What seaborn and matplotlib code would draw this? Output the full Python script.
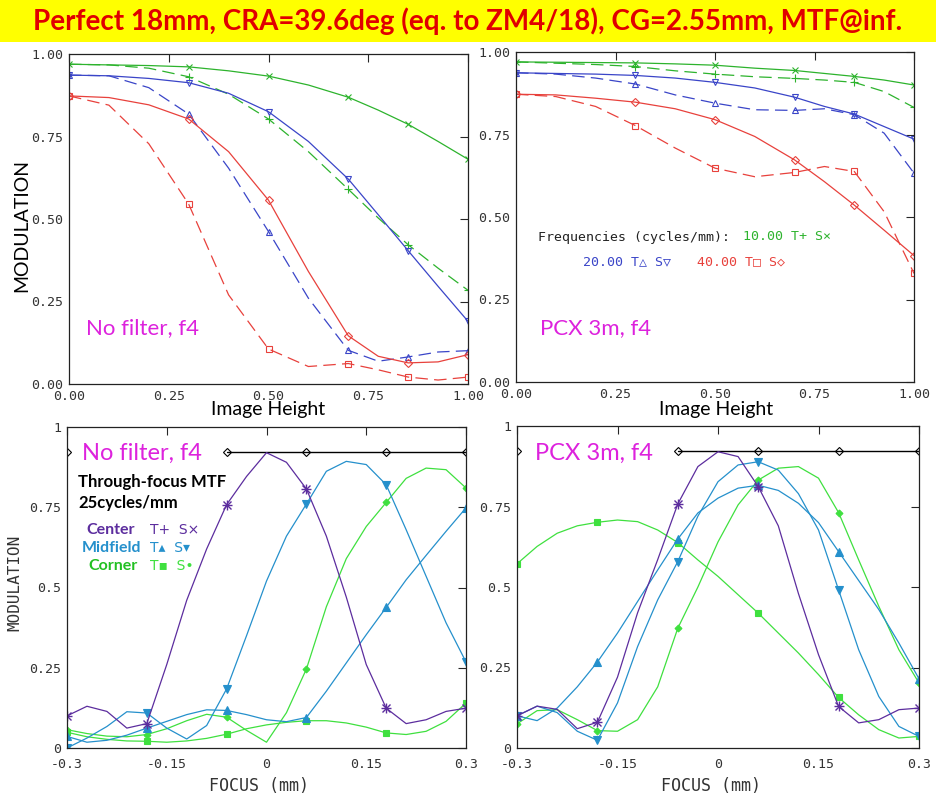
import matplotlib
matplotlib.use("Agg")
import matplotlib.pyplot as plt
from matplotlib.patches import Rectangle
import numpy as np
import pandas as pd
import seaborn as sns

sns.set_style("white")
plt.rcParams['font.family'] = ['DejaVu Sans Mono', 'DejaVu Sans']

# ---------------- data: MTF vs image height (top panels) ----------------
image_height = [0, 0.1, 0.2, 0.3, 0.4, 0.5, 0.6, 0.7, 0.775, 0.85, 0.925, 1.0]
ih_marker_idx = [0, 3, 5, 7, 9, 11]

nf_10T = [0.969, 0.967, 0.957, 0.931, 0.878, 0.803, 0.704, 0.590, 0.503, 0.422, 0.351, 0.284]
nf_10S = [0.969, 0.967, 0.965, 0.961, 0.949, 0.933, 0.906, 0.869, 0.830, 0.787, 0.735, 0.681]
nf_20T = [0.936, 0.934, 0.898, 0.818, 0.654, 0.462, 0.260, 0.102, 0.069, 0.082, 0.097, 0.101]
nf_20S = [0.936, 0.934, 0.926, 0.913, 0.881, 0.825, 0.735, 0.621, 0.513, 0.404, 0.296, 0.190]
nf_40T = [0.873, 0.845, 0.728, 0.545, 0.270, 0.106, 0.053, 0.062, 0.043, 0.021, 0.012, 0.021]
nf_40S = [0.873, 0.868, 0.846, 0.803, 0.704, 0.557, 0.341, 0.146, 0.084, 0.064, 0.067, 0.089]

pcx_10T = [0.970, 0.966, 0.962, 0.956, 0.943, 0.933, 0.925, 0.920, 0.915, 0.908, 0.880, 0.832]
pcx_10S = [0.970, 0.969, 0.968, 0.967, 0.964, 0.960, 0.951, 0.944, 0.935, 0.926, 0.915, 0.900]
pcx_20T = [0.937, 0.933, 0.921, 0.903, 0.870, 0.845, 0.825, 0.823, 0.828, 0.810, 0.754, 0.633]
pcx_20S = [0.937, 0.935, 0.933, 0.929, 0.921, 0.908, 0.891, 0.863, 0.835, 0.812, 0.774, 0.736]
pcx_40T = [0.872, 0.865, 0.835, 0.777, 0.709, 0.648, 0.622, 0.635, 0.653, 0.638, 0.516, 0.329]
pcx_40S = [0.872, 0.870, 0.860, 0.848, 0.828, 0.795, 0.744, 0.673, 0.607, 0.536, 0.460, 0.383]

# ---------------- data: through-focus MTF at 25 cycles/mm (bottom panels) ----------------
focus = [-0.30, -0.27, -0.24, -0.21, -0.18, -0.15, -0.12, -0.09, -0.06, -0.03, 0.00,
         0.03, 0.06, 0.09, 0.12, 0.15, 0.18, 0.21, 0.24, 0.27, 0.30]
focus_marker_idx = [0, 4, 8, 12, 16, 20]

nf_center = [0.100, 0.130, 0.114, 0.062, 0.076, 0.260, 0.460, 0.620, 0.758, 0.846, 0.920,
             0.890, 0.807, 0.660, 0.470, 0.260, 0.124, 0.076, 0.088, 0.114, 0.124]
nf_midT = [0.036, 0.018, 0.024, 0.040, 0.062, 0.083, 0.104, 0.119, 0.117, 0.104, 0.088,
           0.082, 0.095, 0.177, 0.265, 0.353, 0.438, 0.524, 0.600, 0.675, 0.748]
nf_midS = [0.000, 0.031, 0.067, 0.113, 0.109, 0.062, 0.028, 0.070, 0.184, 0.350, 0.520,
           0.660, 0.760, 0.862, 0.893, 0.883, 0.820, 0.680, 0.535, 0.390, 0.268]
nf_corT = [0.049, 0.035, 0.027, 0.022, 0.021, 0.018, 0.022, 0.030, 0.043, 0.060, 0.072,
           0.080, 0.085, 0.085, 0.078, 0.065, 0.047, 0.042, 0.052, 0.083, 0.140]
nf_corS = [0.057, 0.045, 0.037, 0.035, 0.042, 0.060, 0.085, 0.105, 0.096, 0.055, 0.018,
           0.110, 0.246, 0.440, 0.590, 0.690, 0.765, 0.840, 0.872, 0.867, 0.810]

pcx_center = [0.100, 0.130, 0.120, 0.060, 0.080, 0.220, 0.420, 0.585, 0.758, 0.874, 0.920,
              0.905, 0.812, 0.690, 0.480, 0.290, 0.129, 0.078, 0.088, 0.119, 0.124]
pcx_midT = [0.100, 0.085, 0.124, 0.190, 0.267, 0.357, 0.455, 0.553, 0.649, 0.730, 0.776,
            0.807, 0.816, 0.800, 0.760, 0.700, 0.610, 0.520, 0.430, 0.326, 0.215]
pcx_midS = [0.100, 0.130, 0.110, 0.052, 0.024, 0.140, 0.315, 0.460, 0.579, 0.720, 0.827,
            0.879, 0.889, 0.863, 0.790, 0.677, 0.491, 0.305, 0.160, 0.067, 0.036]
pcx_corT = [0.572, 0.626, 0.667, 0.690, 0.701, 0.708, 0.703, 0.677, 0.638, 0.584, 0.533,
            0.476, 0.419, 0.357, 0.295, 0.228, 0.157, 0.103, 0.057, 0.031, 0.036]
pcx_corS = [0.075, 0.116, 0.119, 0.088, 0.054, 0.052, 0.088, 0.190, 0.372, 0.500, 0.640,
            0.755, 0.832, 0.869, 0.874, 0.838, 0.731, 0.584, 0.440, 0.305, 0.202]

diff_focus = [-0.30, -0.06, 0.06, 0.18, 0.30]
diff_limit = [0.923, 0.923, 0.923, 0.923, 0.923]

top_ticks = [0, 0.25, 0.5, 0.75, 1.0]
top_ticklabels = ["0.00", "0.25", "0.50", "0.75", "1.00"]
focus_ticks = [-0.3, -0.15, 0, 0.15, 0.3]
focus_ticklabels = ["-0.3", "-0.15", "0", "0.15", "0.3"]
mod_ticks = [0, 0.25, 0.5, 0.75, 1.0]
mod_ticklabels = ["0", "0.25", "0.5", "0.75", "1"]

# colors
GREEN, BLUE, RED = "#2db32d", "#3a45c8", "#e8413c"
PURPLE, MID, CORNER = "#5c2d9e", "#2590cc", "#3fe03f"
MAGENTA = "#dd22dd"

W, H = 936, 798
fig = plt.figure(figsize=(W / 100, H / 100), dpi=100)
fig.add_artist(Rectangle((0, 1 - 42 / H), 1, 42 / H, transform=fig.transFigure,
                         facecolor="#ffff00", edgecolor="none", zorder=0))
fig.text(468 / W, 1 - 21 / H,
         "Perfect 18mm, CRA=39.6deg (eq. to ZM4/18), CG=2.55mm, MTF@inf.",
         ha="center", va="center", fontsize=20, fontweight="bold", color="#e00000",
         family=["Lato", "DejaVu Sans"])


def add_ax(l, t, r, b):
    return fig.add_axes([l / W, 1 - b / H, (r - l) / W, (b - t) / H])


def style(ax, xlim, xt, xtl, yt, ytl, xpad=4):
    ax.set_xlim(*xlim)
    ax.set_ylim(0, 1)
    ax.set_xticks(xt)
    ax.set_xticklabels(xtl)
    ax.set_yticks(yt)
    ax.set_yticklabels(ytl)
    ax.tick_params(direction="in", length=6, width=0.8, top=True, right=True,
                   labelsize=9.5, labelcolor="#333333", pad=4)
    ax.tick_params(axis="x", pad=xpad)
    for s in ax.spines.values():
        s.set_color("#222222")
        s.set_linewidth(0.9)
    ax.set_xlabel("")
    ax.set_ylabel("")
    ax.set_facecolor("white")


DASH = (0, (10, 5))


def series(ax, x, y, color, marker, idx, ls="-", ms=4.5, filled=False, mew=0.8, lw=0.9):
    sns.lineplot(x=x, y=y, ax=ax, color=color, linestyle=ls, linewidth=lw,
                 marker=marker, markevery=idx, markersize=ms,
                 markeredgecolor=color, markerfacecolor=(color if filled else "none"),
                 markeredgewidth=mew, errorbar=None, sort=False, legend=False)


def markers_only(ax, x, y, color, marker, idx, ms=5, filled=False, mew=0.8):
    sns.lineplot(x=x, y=y, ax=ax, color=color, linestyle="none",
                 marker=marker, markevery=idx, markersize=ms,
                 markeredgecolor=color, markerfacecolor=(color if filled else "none"),
                 markeredgewidth=mew, errorbar=None, sort=False, legend=False)


# ---------- top panels ----------
def top_panel(ax, d10T, d10S, d20T, d20S, d40T, d40S):
    series(ax, image_height, d10S, GREEN, "x", ih_marker_idx)
    series(ax, image_height, d10T, GREEN, "+", ih_marker_idx, ls=DASH, ms=6)
    series(ax, image_height, d20S, BLUE, "v", ih_marker_idx)
    series(ax, image_height, d20T, BLUE, "^", ih_marker_idx, ls=DASH)
    series(ax, image_height, d40S, RED, "D", ih_marker_idx, ms=3.8)
    series(ax, image_height, d40T, RED, "s", ih_marker_idx, ls=DASH, ms=4)
    style(ax, (0, 1), top_ticks, top_ticklabels, top_ticks, top_ticklabels)


ax1 = add_ax(69, 54, 468, 384)
top_panel(ax1, nf_10T, nf_10S, nf_20T, nf_20S, nf_40T, nf_40S)
ax2 = add_ax(516, 52, 914, 382)
top_panel(ax2, pcx_10T, pcx_10S, pcx_20T, pcx_20S, pcx_40T, pcx_40S)

fig.text(22 / W, 1 - 225 / H, "MODULATION", rotation=90, ha="center", va="center",
         fontsize=14, family=["Lato", "DejaVu Sans"], color="black")
for cx in (268, 716):
    fig.text(cx / W, 1 - 410 / H, "Image Height", ha="center", va="center",
             fontsize=14, family=["Lato", "DejaVu Sans"], color="black")

fig.text(86 / W, 1 - 328 / H, "No filter, f4", ha="left", va="center", fontsize=16,
         color=MAGENTA, family=["Lato", "DejaVu Sans"])
fig.text(540 / W, 1 - 328 / H, "PCX 3m, f4", ha="left", va="center", fontsize=16,
         color=MAGENTA, family=["Lato", "DejaVu Sans"])

mono = ["DejaVu Sans Mono", "DejaVu Sans"]
fig.text(538 / W, 1 - 237 / H, "Frequencies (cycles/mm):", ha="left", va="center",
         fontsize=9.5, color="#222222", family=mono)
fig.text(743 / W, 1 - 237 / H, "10.00 T+ S\u00d7", ha="left", va="center",
         fontsize=9.5, color=GREEN, family=mono)
fig.text(583 / W, 1 - 262 / H, "20.00 T\u25b3 S\u25bd", ha="left", va="center",
         fontsize=9.5, color=BLUE, family=mono)
fig.text(697 / W, 1 - 262 / H, "40.00 T\u25a1 S\u25c7", ha="left", va="center",
         fontsize=9.5, color=RED, family=mono)


# ---------- bottom panels ----------
def bottom_panel(ax, cen, midT, midS, corT, corS):
    series(ax, diff_focus[1:], diff_limit[1:], "black", "D", [0, 1, 2, 3], ms=3.8, lw=1.0)
    markers_only(ax, diff_focus[:1], diff_limit[:1], "black", "D", [0], ms=3.8)
    series(ax, focus, corT, CORNER, "s", focus_marker_idx, ms=5, filled=True)
    series(ax, focus, corS, CORNER, "D", focus_marker_idx, ms=3.5, filled=True)
    series(ax, focus, midT, MID, "^", focus_marker_idx, ms=5.5, filled=True)
    series(ax, focus, midS, MID, "v", focus_marker_idx, ms=5.5, filled=True)
    series(ax, focus, cen, PURPLE, "+", focus_marker_idx, ms=7, mew=1.0)
    markers_only(ax, focus, cen, PURPLE, "x", focus_marker_idx, ms=5.5, mew=1.0)
    style(ax, (-0.3, 0.3), focus_ticks, focus_ticklabels, mod_ticks, mod_ticklabels, xpad=7)


ax3 = add_ax(67, 427, 466, 748)
bottom_panel(ax3, nf_center, nf_midT, nf_midS, nf_corT, nf_corS)
ax4 = add_ax(517, 426, 919, 748)
bottom_panel(ax4, pcx_center, pcx_midT, pcx_midS, pcx_corT, pcx_corS)

fig.text(15 / W, 1 - 583 / H, "MODULATION", rotation=90, ha="center", va="center",
         fontsize=11.5, color="#333333", family=mono)
for cx in (259, 711):
    fig.text(cx / W, 1 - 786 / H, "FOCUS (mm)", ha="center", va="center",
             fontsize=12, color="#333333", family=mono)

fig.text(82 / W, 1 - 453 / H, "No filter, f4", ha="left", va="center", fontsize=17,
         color=MAGENTA, family=["Lato", "DejaVu Sans"])
fig.text(535 / W, 1 - 453 / H, "PCX 3m, f4", ha="left", va="center", fontsize=17,
         color=MAGENTA, family=["Lato", "DejaVu Sans"])

lato = ["Lato", "DejaVu Sans"]
fig.text(78 / W, 1 - 482 / H, "Through-focus MTF", ha="left", va="center", fontsize=12,
         fontweight="bold", color="black", family=lato)
fig.text(78 / W, 1 - 503 / H, "25cycles/mm", ha="left", va="center", fontsize=12,
         fontweight="bold", color="black", family=lato)
legend_rows = [("Center", PURPLE, PURPLE, "T+  S\u00d7", 86, 530),
               ("Midfield", MID, MID, "T\u25b4  S\u25be", 82, 548),
               ("Corner", "#22c022", CORNER, "T\u25aa  S\u2022", 88, 566)]
for name, col, scol, sym, lx, ly in legend_rows:
    fig.text(lx / W, 1 - ly / H, name, ha="left", va="center", fontsize=11.5,
             fontweight="bold", color=col, family=lato)
    fig.text(150 / W, 1 - ly / H, sym, ha="left", va="center", fontsize=10,
             color=scol, family=["DejaVu Sans"])

fig.savefig("out.png", dpi=100)
